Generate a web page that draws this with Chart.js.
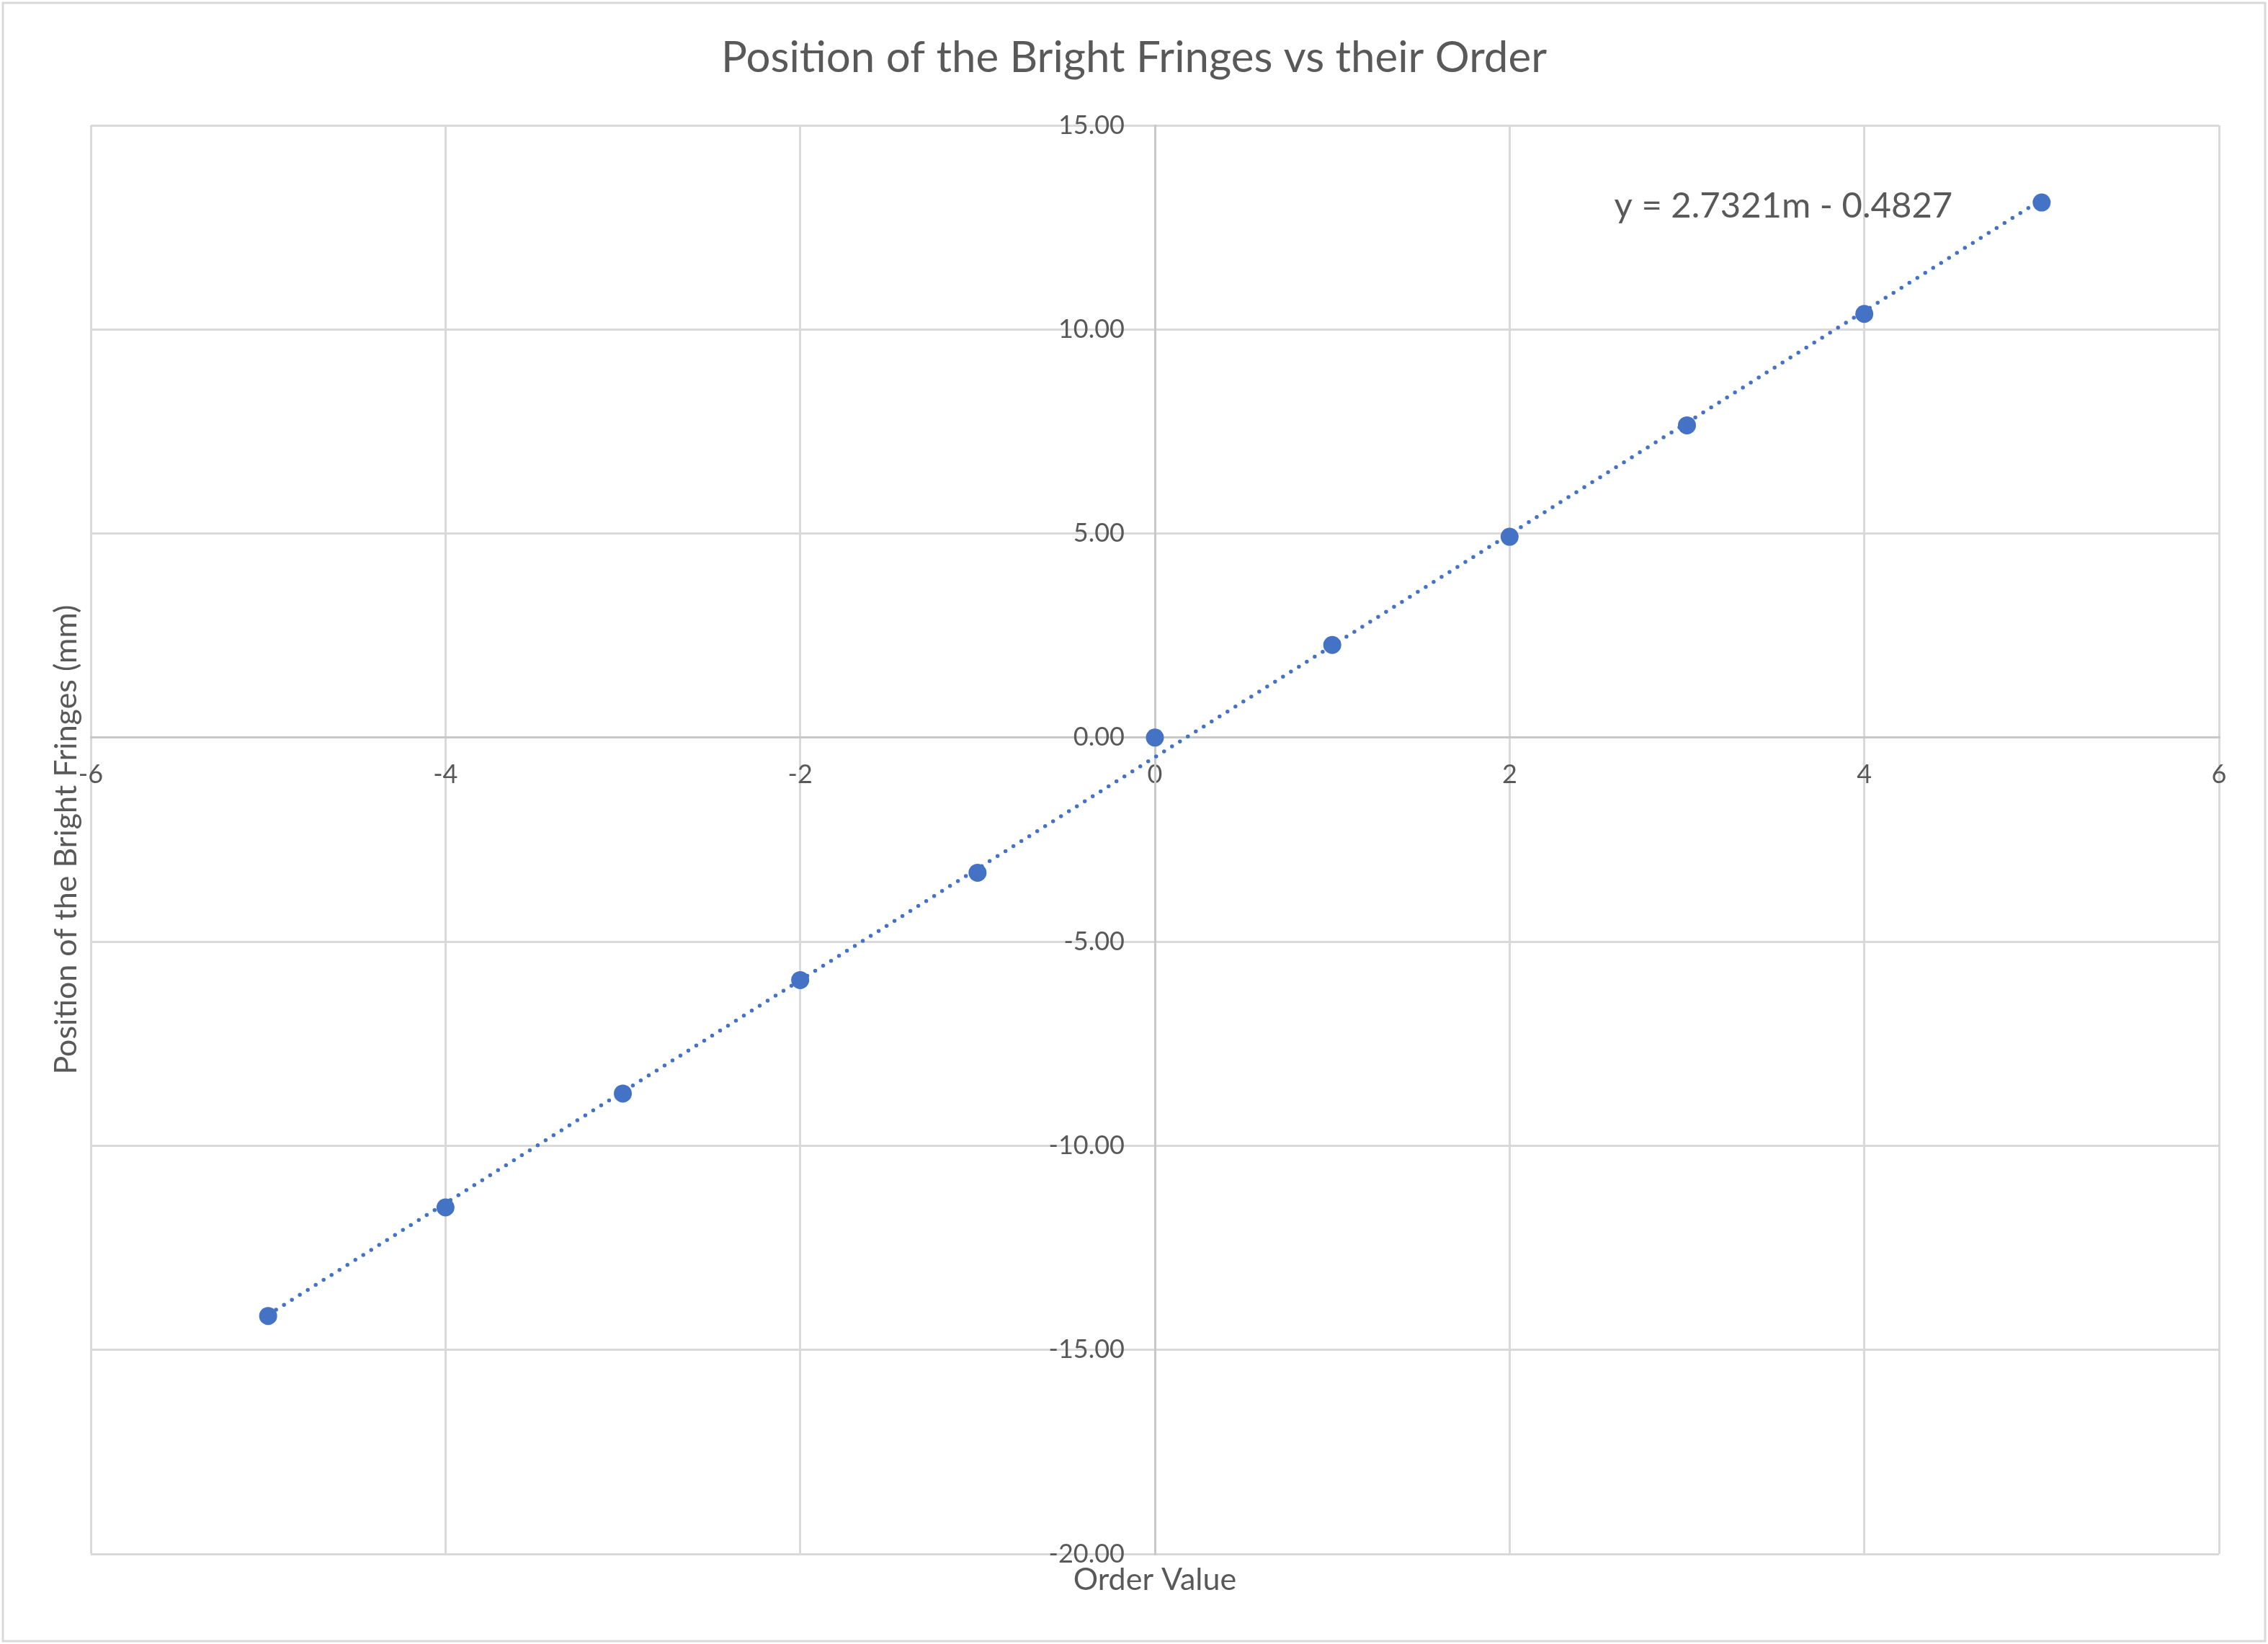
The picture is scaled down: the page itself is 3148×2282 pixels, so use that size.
<!DOCTYPE html>
<html>
<head>
<meta charset="utf-8">
<script src="https://cdn.jsdelivr.net/npm/chart.js@4.4.1/dist/chart.umd.min.js"></script>
<style>
html, body { margin: 0; padding: 0; background: #fff; }
#wrap { width: 3148px; height: 2282px; position: relative; }
#fringes { width: 3148px; height: 2282px; display: block; }
</style>
</head>
<body>
<div id="wrap"><canvas id="fringes" width="3148" height="2282"></canvas></div>
<script>
// measured fringe positions (mm) for each order
const orders = [-5, -4, -3, -2, -1, 0, 1, 2, 3, 4, 5];
const positions = [-14.17, -11.51, -8.72, -5.94, -3.31, 0.00, 2.27, 4.92, 7.65, 10.38, 13.11];

// linear trendline end points
const trendOrders = [-5, 5];
const trendPositions = [-14.14, 13.18];

const xTicks = [-6, -4, -2, 0, 2, 4, 6];
const yTicks = [-20, -15, -10, -5, 0, 5, 10, 15];

const titleText = 'Position of the Bright Fringes vs their Order';
const xTitle = 'Order Value';
const yTitle = 'Position of the Bright Fringes (mm)';
const trendLabel = 'y = 2.7321m - 0.4827';
const trendLabelAt = { x: 2.59, y: 12.74 };

const textColor = '#595959';
const gridColor = '#d9d9d9';
const blue = '#4472c4';
const font = 'Lato';

const extraText = {
    id: 'extraText',
    beforeDraw(chart) {
        const ctx = chart.ctx;
        ctx.save();
        ctx.fillStyle = '#fff';
        ctx.fillRect(0, 0, chart.width, chart.height);
        ctx.strokeStyle = gridColor;
        ctx.lineWidth = 3;
        ctx.strokeRect(4, 4, chart.width - 8, chart.height - 8);
        ctx.restore();
    },
    afterDraw(chart) {
        const { ctx, chartArea, scales } = chart;
        ctx.save();
        ctx.fillStyle = textColor;
        ctx.textAlign = 'center';
        ctx.textBaseline = 'alphabetic';

        ctx.font = `60px ${font}`;
        ctx.fillText(titleText, chart.width / 2, 100);

        ctx.font = `43px ${font}`;
        ctx.fillText(xTitle, (chartArea.left + chartArea.right) / 2, 2207);

        ctx.save();
        ctx.translate(92, (chartArea.top + chartArea.bottom) / 2);
        ctx.rotate(-Math.PI / 2);
        ctx.textBaseline = 'middle';
        ctx.fillText(yTitle, 0, 0);
        ctx.restore();

        // y tick labels sit left of the centred axis, with a gap
        ctx.font = `36px ${font}`;
        ctx.textAlign = 'right';
        ctx.textBaseline = 'middle';
        const axisX = scales.x.getPixelForValue(0) - 42;
        yTicks.forEach(v => ctx.fillText(v.toFixed(2), axisX, scales.y.getPixelForValue(v)));

        ctx.font = `49px ${font}`;
        ctx.textAlign = 'left';
        ctx.textBaseline = 'alphabetic';
        ctx.fillText(trendLabel, scales.x.getPixelForValue(trendLabelAt.x), scales.y.getPixelForValue(trendLabelAt.y));
        ctx.restore();
    },
};

new Chart(document.getElementById('fringes').getContext('2d'), {
    type: 'scatter',
    data: {
        datasets: [{
            label: 'Fringes',
            data: orders.map((o, i) => ({ x: o, y: positions[i] })),
            backgroundColor: blue,
            borderColor: blue,
            pointRadius: 12.5,
            pointBorderWidth: 0,
            order: 1,
        }, {
            label: 'Trendline',
            data: trendOrders.map((o, i) => ({ x: o, y: trendPositions[i] })),
            showLine: true,
            borderColor: blue,
            borderWidth: 5.5,
            borderDash: [0, 13],
            borderCapStyle: 'round',
            pointRadius: 0,
            order: 2,
        }],
    },
    options: {
        responsive: false,
        animation: false,
        devicePixelRatio: 1,
        layout: { padding: { left: 126, right: 68, top: 174, bottom: 125 } },
        scales: {
            x: {
                type: 'linear',
                position: { y: 0 },
                min: -6,
                max: 6,
                afterBuildTicks: (axis) => { axis.ticks = xTicks.map(v => ({ value: v })); },
                ticks: {
                    color: textColor,
                    font: { family: font, size: 36 },
                    padding: 30,
                    callback: (v) => String(v),
                },
                grid: { color: gridColor, lineWidth: 3, drawTicks: false },
                border: { color: '#c8c8c8', width: 3 },
            },
            y: {
                type: 'linear',
                position: { x: 0 },
                min: -20,
                max: 15,
                afterBuildTicks: (axis) => { axis.ticks = yTicks.map(v => ({ value: v })); },
                ticks: { display: false },
                grid: { color: gridColor, lineWidth: 3, drawTicks: false },
                border: { color: '#c8c8c8', width: 3 },
            },
        },
        plugins: {
            legend: { display: false },
            title: { display: false },
            tooltip: { enabled: false },
        },
    },
    plugins: [extraText],
});
</script>
</body>
</html>
